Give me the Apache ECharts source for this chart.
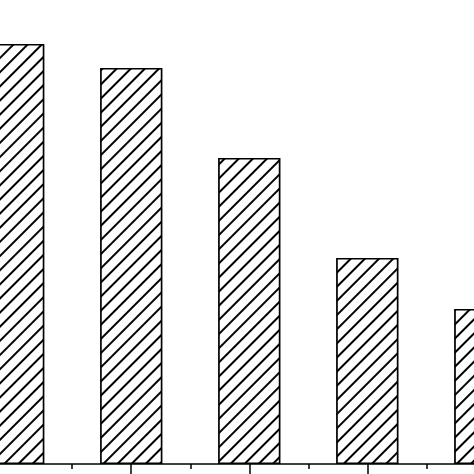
<!DOCTYPE html>
<html>
<head>
<meta charset="UTF-8">
<script src="https://cdn.jsdelivr.net/npm/echarts@6/dist/echarts.min.js"></script>
<style>
* { margin: 0; padding: 0; }
#main { width: 474px; height: 474px; background: #fff; }
</style>
</head>
<body>
<div id="main"></div>
<script>
// bar positions in category units, value per bar
var positions = [0, 1, 2, 3, 4];
var values = [420, 396, 306, 206, 155];
var majorTicks = [1, 2, 3];
var minorTicks = [0.5, 1.5, 2.5, 3.5];

var chart = echarts.init(document.getElementById('main'));
var hatch = {
	symbol: 'rect',
	color: '#000',
	backgroundColor: '#fff',
	dashArrayX: [1, 0],
	dashArrayY: [1.2, 7.5],
	rotation: -Math.PI / 4
};
var xMin = -14 / 125, xMax = 488 / 125;
chart.setOption({
	animation: false,
	grid: { left: 0, right: 0, top: 14, bottom: 10 },
	xAxis: [{
		type: 'value', min: xMin, max: xMax,
		splitLine: { show: false },
		axisLine: { onZero: false, lineStyle: { color: '#000', width: 1.5 } },
		axisTick: { show: true, customValues: minorTicks, length: 5, lineStyle: { color: '#000', width: 1.5 } },
		axisLabel: { show: false }
	}, {
		type: 'value', min: xMin, max: xMax, position: 'bottom',
		splitLine: { show: false },
		axisLine: { show: false },
		axisTick: { show: true, customValues: majorTicks, length: 10, lineStyle: { color: '#000', width: 1.5 } },
		axisLabel: { show: false }
	}],
	yAxis: {
		type: 'value', min: 0, max: 450,
		show: false, splitLine: { show: false }
	},
	series: [{
		type: 'bar',
		data: positions.map(function (p, i) { return [p, values[i]]; }),
		barWidth: 62,
		clip: false,
		itemStyle: { color: '#fff', borderColor: '#000', borderWidth: 1.5, decal: hatch }
	}]
});
</script>
</body>
</html>
